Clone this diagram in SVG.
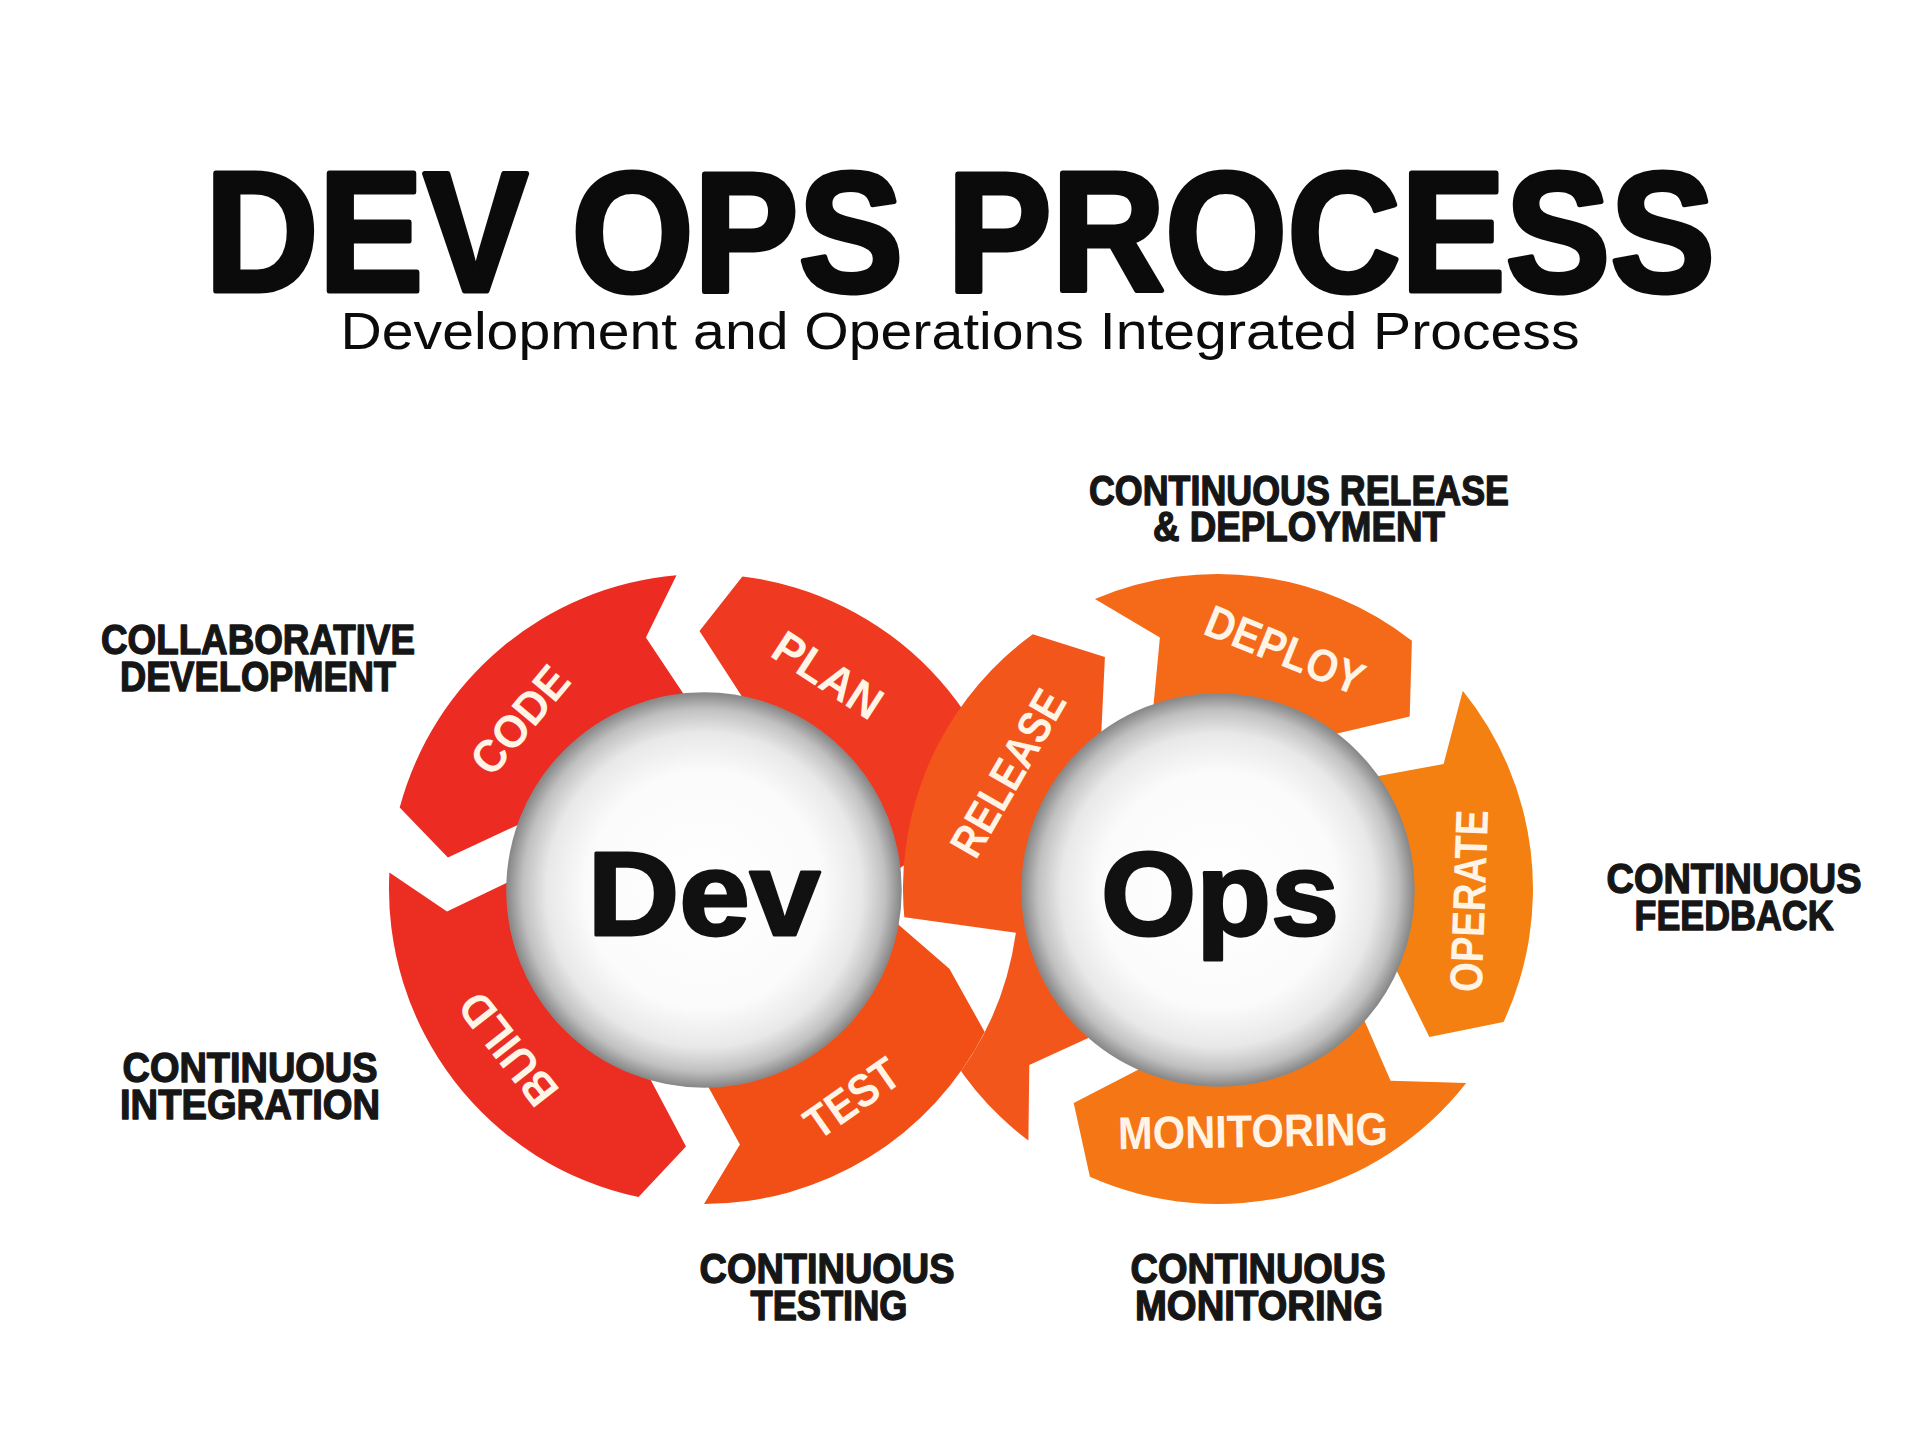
<svg xmlns="http://www.w3.org/2000/svg" width="1920" height="1439" viewBox="0 0 1920 1439">
<style>
.head{font-family:"Liberation Sans",Arial,sans-serif;fill:#0b0b0b;text-anchor:middle}
.side{font-family:"Liberation Sans",Arial,sans-serif;font-weight:bold;font-size:42px;fill:#161616;stroke:#161616;stroke-width:1.4;stroke-linejoin:round;text-anchor:middle}
.lbl{font-family:"Liberation Sans",Arial,sans-serif;font-weight:bold;font-size:46px;fill:#fff4e6;text-anchor:middle}
.core{font-family:"Liberation Sans",Arial,sans-serif;font-weight:bold;font-size:118px;fill:#111;stroke:#111;stroke-width:3;stroke-linejoin:round;text-anchor:middle}
.ball{fill:url(#sphere);stroke:#8a8a8a;stroke-width:1.5}
</style>
<defs>
<radialGradient id="sphere" cx="50%" cy="50%" r="50%">
<stop offset="0" stop-color="#ffffff"/>
<stop offset="0.6" stop-color="#fbfbfb"/>
<stop offset="0.8" stop-color="#e8e8e8"/>
<stop offset="0.92" stop-color="#c0c0c0"/>
<stop offset="1" stop-color="#888888"/>
</radialGradient>
</defs>
<rect width="1920" height="1439" fill="#ffffff"/>

<g id="title">
<text class="head"><tspan x="960" y="291" font-size="170" font-weight="bold" stroke="#0b0b0b" stroke-width="5" stroke-linejoin="round" textLength="1510" lengthAdjust="spacingAndGlyphs">DEV OPS PROCESS</tspan><tspan x="960" y="349" font-size="52" textLength="1239" lengthAdjust="spacingAndGlyphs">Development and Operations Integrated Process</tspan></text>
</g>

<g id="dev-ring">
<g id="plan"><path fill="#ef3a21" d="M 1017.8 861.5 A 315 315 0 0 0 742.4 576.4 L 699.5 631.1 L 746.8 703.9 A 190 190 0 0 1 893.3 872.4 L 955.4 830.9 Z"/></g>
<g id="code"><path fill="#ec2c22" d="M 676.5 575.2 A 315 315 0 0 0 399.7 807.5 L 447.9 857.5 L 526.6 820.9 A 190 190 0 0 1 687.4 699.7 L 645.9 637.6 Z"/></g>
<g id="build"><path fill="#ec2d21" d="M 389.4 872.5 A 315 315 0 0 0 638.5 1197.1 L 686.0 1146.4 L 645.3 1069.7 A 190 190 0 0 1 514.3 879.1 L 447.0 911.5 Z"/></g>
</g>

<g id="ops-ring">
<g id="release"><path fill="#f3561a" d="M 1028.4 1140.6 A 315 315 0 0 1 1032.8 634.2 L 1104.9 657.1 L 1101.0 739.3 A 190 190 0 0 0 1095.9 1034.5 L 1029.3 1065.0 Z"/></g>
<g id="deploy"><path fill="#f46a18" d="M 1094.9 599.0 A 315 315 0 0 1 1411.9 640.8 L 1409.7 716.4 L 1329.7 735.3 A 190 190 0 0 0 1153.0 710.5 L 1159.9 637.6 Z"/></g>
<g id="operate"><path fill="#f58012" d="M 1462.8 690.8 A 315 315 0 0 1 1503.5 1022.1 L 1429.4 1037.0 L 1392.9 963.2 A 190 190 0 0 0 1371.7 777.3 L 1443.6 763.9 Z"/></g>
<g id="monitoring"><path fill="#f57614" d="M 1466.2 1082.9 A 315 315 0 0 1 1089.9 1176.8 L 1073.7 1102.9 L 1146.8 1065.2 A 190 190 0 0 0 1361.4 1013.7 L 1390.6 1080.7 Z"/></g>
</g>

<g id="crossing-gap">
<path fill="#ffffff" d="M 1015.9 932.8 A 315 315 0 0 1 945.3 1091.5 L 849.5 1011.1 A 190 190 0 0 0 892.2 915.4 Z"/>
</g>

<g id="test"><path fill="#f24f17" d="M 704 1204 A 315 315 0 0 0 984.7 1032 L 949.4 968.7 L 891.7 918.7 A 190 190 0 0 1 704 1079 L 739.9 1144.5 Z"/></g>

<g id="dev">
<circle class="ball" cx="704" cy="890" r="197"/>
<text class="core" x="704" y="935" textLength="233" lengthAdjust="spacingAndGlyphs">Dev</text>
</g>
<g id="ops">
<circle class="ball" cx="1218" cy="890" r="196"/>
<text class="core" x="1220" y="935" textLength="238" lengthAdjust="spacingAndGlyphs">Ops</text>
</g>

<g id="segment-labels">
<text class="lbl" transform="translate(828 675) rotate(33)" dy="16" textLength="121" lengthAdjust="spacingAndGlyphs">PLAN</text>
<text class="lbl" transform="translate(520 720) rotate(-50)" dy="16" textLength="126" lengthAdjust="spacingAndGlyphs">CODE</text>
<text class="lbl" transform="translate(508 1049) rotate(232)" dy="16" textLength="130" lengthAdjust="spacingAndGlyphs">BUILD</text>
<text class="lbl" transform="translate(852 1098) rotate(-35)" dy="16" textLength="105" lengthAdjust="spacingAndGlyphs">TEST</text>
<text class="lbl" transform="translate(1008 773) rotate(-60)" dy="16" textLength="184" lengthAdjust="spacingAndGlyphs">RELEASE</text>
<text class="lbl" transform="translate(1285 650) rotate(22)" dy="16" textLength="167" lengthAdjust="spacingAndGlyphs">DEPLOY</text>
<text class="lbl" transform="translate(1469 901) rotate(-88)" dy="16" textLength="182" lengthAdjust="spacingAndGlyphs">OPERATE</text>
<text class="lbl" transform="translate(1253 1131) rotate(-1)" dy="16" textLength="270" lengthAdjust="spacingAndGlyphs">MONITORING</text>
</g>

<g id="stage-labels">
<text id="collaborative-development" class="side"><tspan x="258" y="654" textLength="314" lengthAdjust="spacingAndGlyphs">COLLABORATIVE</tspan><tspan x="258" y="691" textLength="276" lengthAdjust="spacingAndGlyphs">DEVELOPMENT</tspan></text>
<text id="continuous-release" class="side"><tspan x="1299" y="505" textLength="420" lengthAdjust="spacingAndGlyphs">CONTINUOUS RELEASE</tspan><tspan x="1299" y="541" textLength="292" lengthAdjust="spacingAndGlyphs">&amp; DEPLOYMENT</tspan></text>
<text id="continuous-feedback" class="side"><tspan x="1734" y="893" textLength="255" lengthAdjust="spacingAndGlyphs">CONTINUOUS</tspan><tspan x="1734" y="930" textLength="199" lengthAdjust="spacingAndGlyphs">FEEDBACK</tspan></text>
<text id="continuous-integration" class="side"><tspan x="250" y="1082" textLength="255" lengthAdjust="spacingAndGlyphs">CONTINUOUS</tspan><tspan x="250" y="1119" textLength="260" lengthAdjust="spacingAndGlyphs">INTEGRATION</tspan></text>
<text id="continuous-testing" class="side"><tspan x="827" y="1283" textLength="255" lengthAdjust="spacingAndGlyphs">CONTINUOUS</tspan><tspan x="829" y="1320" textLength="157" lengthAdjust="spacingAndGlyphs">TESTING</tspan></text>
<text id="continuous-monitoring" class="side"><tspan x="1258" y="1283" textLength="255" lengthAdjust="spacingAndGlyphs">CONTINUOUS</tspan><tspan x="1259" y="1320" textLength="248" lengthAdjust="spacingAndGlyphs">MONITORING</tspan></text>
</g>
</svg>
